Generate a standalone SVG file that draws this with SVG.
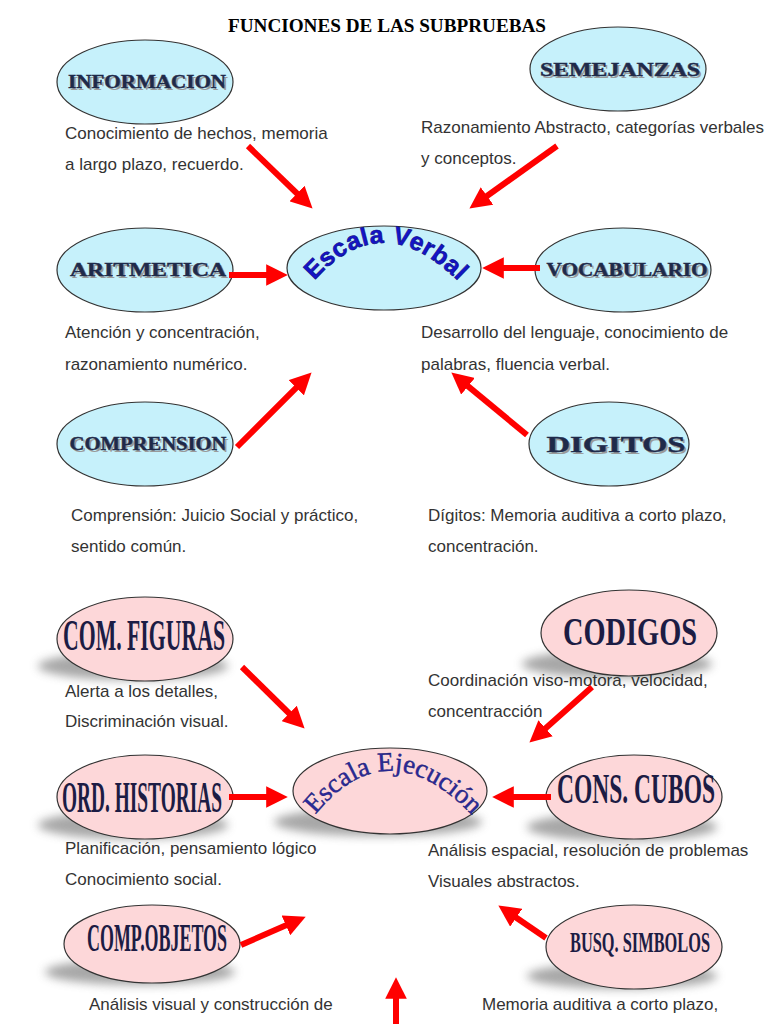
<svg xmlns="http://www.w3.org/2000/svg" width="768" height="1024" viewBox="0 0 768 1024">
<defs>
<style>
.blue{fill:#c6f1fb;stroke:#333;stroke-width:1.2}
.pink{fill:#fdd7d9;stroke:#333;stroke-width:1.2}
.sh{fill:#8a8a8a;filter:url(#blur);opacity:0.75}
.lb{font-family:"Liberation Serif",serif;font-weight:bold;fill:#1f2a4a;text-anchor:middle;stroke:#1f2a4a;stroke-width:0.4}
.lbs{font-family:"Liberation Serif",serif;font-weight:bold;fill:#9a9a9a;text-anchor:middle}
.lp{font-family:"Liberation Serif",serif;font-weight:bold;fill:#1c1c44;text-anchor:middle}
.t{font-family:"Liberation Sans",Arial,sans-serif;font-size:17px;fill:#333}
.ar{stroke:#ff0000;stroke-width:6;fill:none;marker-end:url(#ah)}
</style>
<filter id="blur" x="-20%" y="-50%" width="140%" height="200%"><feGaussianBlur stdDeviation="5"/></filter>
<marker id="ah" viewBox="0 0 10 10" refX="5" refY="5" markerWidth="3.6" markerHeight="3.6" orient="auto" markerUnits="strokeWidth">
<path d="M0,0 L10,5 L0,10 z" fill="#ff0000"/>
</marker>
<path id="arcV" d="M302,296 Q380,190 472,296"/>
<path id="arcE" d="M308,824 Q386,718 480,824"/>
</defs>
<rect width="768" height="1024" fill="#fff"/>
<text x="387" y="32" font-family="Liberation Serif,serif" font-weight="bold" font-size="18" text-anchor="middle" fill="#000" textLength="318" lengthAdjust="spacingAndGlyphs">FUNCIONES DE LAS SUBPRUEBAS</text>

<g id="informacion"><ellipse class="blue" cx="145" cy="82" rx="88" ry="42"/><text class="lbs" x="149" y="90" font-size="18" textLength="158" lengthAdjust="spacingAndGlyphs">INFORMACION</text><text class="lb" x="147" y="88" font-size="18" textLength="158" lengthAdjust="spacingAndGlyphs">INFORMACION</text></g>
<g id="semejanzas"><ellipse class="blue" cx="618" cy="69" rx="88" ry="42"/><text class="lbs" x="622" y="78" font-size="18" textLength="160" lengthAdjust="spacingAndGlyphs">SEMEJANZAS</text><text class="lb" x="620" y="76" font-size="18" textLength="160" lengthAdjust="spacingAndGlyphs">SEMEJANZAS</text></g>
<g id="escala-verbal"><ellipse class="blue" cx="384" cy="268" rx="97" ry="42"/><text font-family="Liberation Sans,Arial,sans-serif" font-weight="bold" font-size="25" fill="#1414c8" stroke="#0a0a80" stroke-width="0.6" letter-spacing="0.5"><textPath href="#arcV" startOffset="50%" text-anchor="middle">Escala Verbal</textPath></text></g>
<g id="aritmetica"><ellipse class="blue" cx="145" cy="270" rx="88" ry="42"/><text class="lbs" x="150" y="278" font-size="18" textLength="156" lengthAdjust="spacingAndGlyphs">ARITMETICA</text><text class="lb" x="148" y="276" font-size="18" textLength="156" lengthAdjust="spacingAndGlyphs">ARITMETICA</text></g>
<g id="vocabulario"><ellipse class="blue" cx="623" cy="270" rx="88" ry="42"/><text class="lbs" x="629" y="278" font-size="18" textLength="161" lengthAdjust="spacingAndGlyphs">VOCABULARIO</text><text class="lb" x="627" y="276" font-size="18" textLength="161" lengthAdjust="spacingAndGlyphs">VOCABULARIO</text></g>
<g id="comprension"><ellipse class="blue" cx="145" cy="444" rx="88" ry="42"/><text class="lbs" x="150" y="452" font-size="18" textLength="157" lengthAdjust="spacingAndGlyphs">COMPRENSION</text><text class="lb" x="148" y="450" font-size="18" textLength="157" lengthAdjust="spacingAndGlyphs">COMPRENSION</text></g>
<g id="digitos"><ellipse class="blue" cx="609" cy="444" rx="80" ry="42"/><text class="lbs" x="618" y="454" font-size="23" textLength="139" lengthAdjust="spacingAndGlyphs">DIGITOS</text><text class="lb" x="616" y="452" font-size="23" textLength="139" lengthAdjust="spacingAndGlyphs">DIGITOS</text></g>

<text class="t" x="65" y="139">Conocimiento de hechos, memoria</text>
<text class="t" x="65" y="170">a largo plazo, recuerdo.</text>
<text class="t" x="421" y="133">Razonamiento Abstracto, categorías verbales</text>
<text class="t" x="421" y="164">y conceptos.</text>
<text class="t" x="65" y="338">Atención y concentración,</text>
<text class="t" x="65" y="370">razonamiento numérico.</text>
<text class="t" x="421" y="338">Desarrollo del lenguaje, conocimiento de</text>
<text class="t" x="421" y="370">palabras, fluencia verbal.</text>
<text class="t" x="71" y="521">Comprensión: Juicio Social y práctico,</text>
<text class="t" x="71" y="552">sentido común.</text>
<text class="t" x="428" y="521">Dígitos: Memoria auditiva a corto plazo,</text>
<text class="t" x="428" y="552">concentración.</text>

<g id="com-figuras"><ellipse class="sh" cx="133" cy="666" rx="95" ry="14"/><ellipse class="pink" cx="145" cy="639" rx="88" ry="42"/><text class="lp" x="144" y="650" font-size="44" textLength="162" lengthAdjust="spacingAndGlyphs">COM. FIGURAS</text></g>
<g id="codigos"><ellipse class="sh" cx="617" cy="664" rx="95" ry="14"/><ellipse class="pink" cx="629" cy="633" rx="88" ry="43"/><text class="lp" x="630" y="645" font-size="39" textLength="134" lengthAdjust="spacingAndGlyphs">CODIGOS</text></g>
<g id="escala-ejecucion"><ellipse class="sh" cx="378" cy="822" rx="104" ry="14"/><ellipse class="pink" cx="390" cy="791" rx="97" ry="43"/><text font-family="Liberation Serif,serif" font-size="27" fill="#2a2a9a" stroke="#1a1a70" stroke-width="0.4"><textPath href="#arcE" startOffset="50%" text-anchor="middle">Escala Ejecución</textPath></text></g>
<g id="ord-historias"><ellipse class="sh" cx="133" cy="825" rx="95" ry="14"/><ellipse class="pink" cx="145" cy="797" rx="88" ry="42"/><text class="lp" x="142" y="812" font-size="44" textLength="160" lengthAdjust="spacingAndGlyphs">ORD. HISTORIAS</text></g>
<g id="cons-cubos"><ellipse class="sh" cx="622" cy="827" rx="95" ry="14"/><ellipse class="pink" cx="634" cy="797" rx="88" ry="42"/><text class="lp" x="636" y="803" font-size="42" textLength="158" lengthAdjust="spacingAndGlyphs">CONS. CUBOS</text></g>
<g id="comp-objetos"><ellipse class="sh" cx="140" cy="972" rx="95" ry="13"/><ellipse class="pink" cx="152" cy="944" rx="88" ry="39"/><text class="lp" x="157" y="951" font-size="39" textLength="140" lengthAdjust="spacingAndGlyphs">COMP.OBJETOS</text></g>
<g id="busq-simbolos"><ellipse class="sh" cx="622" cy="976" rx="95" ry="13"/><ellipse class="pink" cx="634" cy="947" rx="88" ry="42"/><text class="lp" x="640" y="952" font-size="30" textLength="140" lengthAdjust="spacingAndGlyphs">BUSQ. SIMBOLOS</text></g>

<text class="t" x="65" y="697">Alerta a los detalles,</text>
<text class="t" x="65" y="727">Discriminación visual.</text>
<text class="t" x="428" y="686">Coordinación viso-motora, velocidad,</text>
<text class="t" x="428" y="717">concentracción</text>
<text class="t" x="65" y="854">Planificación, pensamiento lógico</text>
<text class="t" x="65" y="885">Conocimiento social.</text>
<text class="t" x="428" y="856">Análisis espacial, resolución de problemas</text>
<text class="t" x="428" y="887">Visuales abstractos.</text>
<text class="t" x="89" y="1010">Análisis visual y construcción de</text>
<text class="t" x="482" y="1010">Memoria auditiva a corto plazo,</text>

<g id="connectors">
<line class="ar" x1="248" y1="146" x2="304.8" y2="201"/>
<line class="ar" x1="557" y1="146" x2="478.2" y2="202.2"/>
<line class="ar" x1="229" y1="275" x2="277" y2="275"/>
<line class="ar" x1="540" y1="268" x2="493" y2="268"/>
<line class="ar" x1="237" y1="447" x2="303.9" y2="380.1"/>
<line class="ar" x1="527" y1="435" x2="459.7" y2="379.4"/>
<line class="ar" x1="242" y1="667" x2="296.9" y2="721"/>
<line class="ar" x1="592" y1="687" x2="537.5" y2="735.4"/>
<line class="ar" x1="229" y1="797" x2="277" y2="797"/>
<line class="ar" x1="551" y1="797" x2="503" y2="797"/>
<line class="ar" x1="241" y1="945" x2="295.8" y2="921"/>
<line class="ar" x1="546" y1="938" x2="507.3" y2="911.6"/>
<line class="ar" x1="396" y1="1024" x2="396" y2="988"/>
</g>
</svg>
